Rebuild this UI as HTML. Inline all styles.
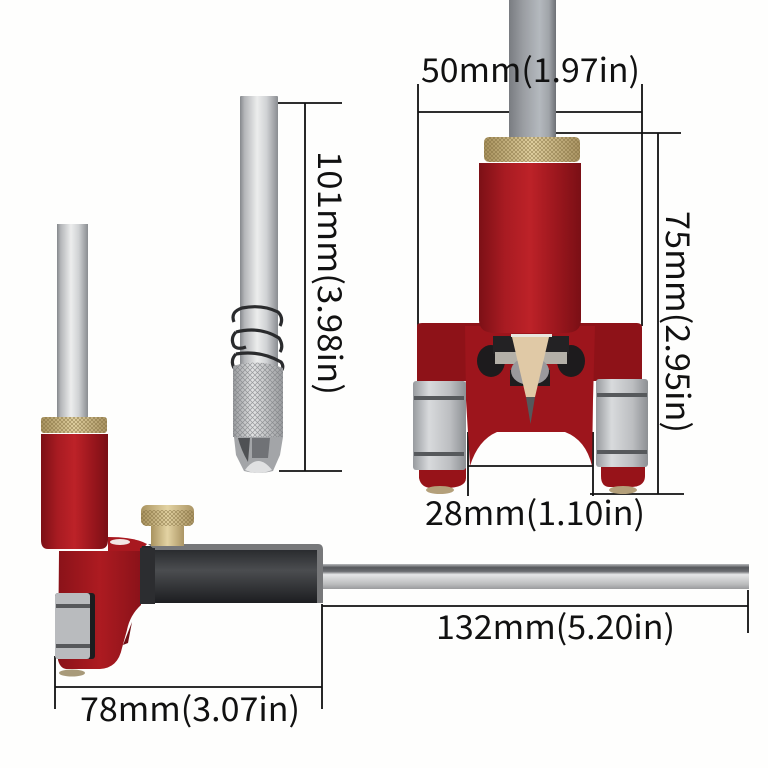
<!DOCTYPE html>
<html><head><meta charset="utf-8"><style>
html,body{margin:0;padding:0;background:#fff}svg{display:block}
text{font-family:"Noto Sans CJK SC","Liberation Sans",sans-serif;font-size:33px;fill:#111}
</style></head><body>
<svg width="768" height="768" viewBox="0 0 768 768" xmlns="http://www.w3.org/2000/svg">
<defs>
<linearGradient id="st" x1="0" x2="1" y1="0" y2="0"><stop offset="0" stop-color="#85888c"/><stop offset=".12" stop-color="#b4b6b9"/><stop offset=".45" stop-color="#eceded"/><stop offset=".7" stop-color="#d0d2d4"/><stop offset="1" stop-color="#8a8d91"/></linearGradient>
<linearGradient id="st2" x1="0" x2="1" y1="0" y2="0"><stop offset="0" stop-color="#797c81"/><stop offset=".3" stop-color="#9a9da2"/><stop offset=".65" stop-color="#b4b9be"/><stop offset=".85" stop-color="#a0a4a9"/><stop offset="1" stop-color="#6d7075"/></linearGradient>
<linearGradient id="sh" x1="0" x2="0" y1="0" y2="1"><stop offset="0" stop-color="#b9bbbd"/><stop offset=".14" stop-color="#55575b"/><stop offset=".3" stop-color="#6d6f73"/><stop offset=".42" stop-color="#e6e7e8"/><stop offset=".8" stop-color="#bcbdbe"/><stop offset="1" stop-color="#9a9b9d"/></linearGradient>
<linearGradient id="red" x1="0" x2="1" y1="0" y2="0"><stop offset="0" stop-color="#7c1016"/><stop offset=".25" stop-color="#a81b22"/><stop offset=".5" stop-color="#bd2228"/><stop offset=".75" stop-color="#9d171e"/><stop offset="1" stop-color="#7a0f15"/></linearGradient>
<linearGradient id="red2" x1="0" x2="1" y1="0" y2="0"><stop offset="0" stop-color="#8a1219"/><stop offset=".5" stop-color="#ad1b21"/><stop offset="1" stop-color="#8a1219"/></linearGradient>
<linearGradient id="brass" x1="0" x2="1" y1="0" y2="0"><stop offset="0" stop-color="#a9935f"/><stop offset=".5" stop-color="#e3d3a3"/><stop offset="1" stop-color="#ab9564"/></linearGradient>
<linearGradient id="blk" x1="0" x2="0" y1="0" y2="1"><stop offset="0" stop-color="#232528"/><stop offset=".42" stop-color="#4b4d50"/><stop offset="1" stop-color="#1b1c1f"/></linearGradient>
<linearGradient id="roll" x1="0" x2="1" y1="0" y2="0"><stop offset="0" stop-color="#989b9f"/><stop offset=".3" stop-color="#d8dadc"/><stop offset=".7" stop-color="#bcbec1"/><stop offset="1" stop-color="#8d9094"/></linearGradient>
<linearGradient id="kg" x1="0" x2="1" y1="0" y2="0"><stop offset="0" stop-color="#9a9c9f"/><stop offset=".4" stop-color="#e2e3e4"/><stop offset="1" stop-color="#9b9da0"/></linearGradient>
<pattern id="kn" width="4" height="4" patternUnits="userSpaceOnUse"><path d="M0 0L4 4M4 0L0 4" stroke="#7a6738" stroke-width=".6" opacity=".7"/></pattern>
<pattern id="kn2" width="5" height="5" patternUnits="userSpaceOnUse"><path d="M0 0L5 5M5 0L0 5" stroke="#77797d" stroke-width=".7" opacity=".7"/></pattern>
</defs>
<rect width="768" height="768" fill="#fefefd"/>

<!-- dimension lines behind rods -->
<g stroke="#111" stroke-width="1.800" fill="none">
<path d="M278 103H342M279 471H342M305 103V471"/>
<path d="M418 84V326M642 84V326M418 112H642"/>
<path d="M556 133H681M590 494H684M658 133V494"/>
<path d="M468 432V496M593 432V496M468 466H593"/>
<path d="M322 604V709M55 656V709M55 687H322"/>
<path d="M322 606H748M748 590V633"/>
</g>

<!-- top-right tool -->
<rect x="509" y="0" width="47" height="138" fill="url(#st2)"/>
<rect x="484" y="137" width="96" height="25" rx="5" fill="url(#brass)"/>
<rect x="484" y="137" width="96" height="25" rx="5" fill="url(#kn)"/>
<path d="M417 326Q417 323 422 323H637Q642 323 642 328V381H417Z" fill="#8e1218"/>
<path d="M465 326H595L593 400 592 466Q586 440 565 432H497Q478 440 470 466L466 400Z" fill="#9d151c"/>
<path d="M479 163H581V320Q581 333 565 333H495Q479 333 479 320Z" fill="url(#red)"/>
<!-- centre mechanics -->
<ellipse cx="491" cy="361" rx="14" ry="16" fill="#1d1b1d"/>
<ellipse cx="571" cy="361" rx="14" ry="16" fill="#1d1b1d"/>
<rect x="493" y="336" width="76" height="18" fill="#232224"/>
<rect x="495" y="352" width="72" height="12" fill="#b4b0a8"/>
<rect x="510" y="370" width="40" height="16" fill="#1e1d1f"/>
<ellipse cx="530" cy="371" rx="19" ry="14" fill="#9a999c"/>
<path d="M512 337H549L535 397H526Z" fill="#e0c9a6"/>
<path d="M526 397H535L530.500 424Z" fill="#55585b"/>
<rect x="511" y="334" width="41" height="3" fill="#e8e6df"/>
<!-- rollers -->
<path d="M419 468H466V478Q466 488 445 488H432Q421 488 419 478Z" fill="#971319"/>
<ellipse cx="440" cy="490" rx="14" ry="4" fill="#b4a07a"/>
<rect x="413" y="381" width="53" height="89" rx="3" fill="url(#roll)"/>
<rect x="414" y="396" width="50" height="4" fill="#56595c"/>
<rect x="414" y="452" width="50" height="4" fill="#56595c"/>
<path d="M601 466H645V476Q645 487 630 487H610Q601 487 601 476Z" fill="#971319"/>
<ellipse cx="623" cy="490" rx="14" ry="4" fill="#b4a07a"/>
<rect x="596" y="379" width="52" height="88" rx="3" fill="url(#roll)"/>
<rect x="597" y="393" width="50" height="4" fill="#56595c"/>
<rect x="597" y="450" width="50" height="4" fill="#56595c"/>

<!-- pencil / centre tool -->
<rect x="240" y="96" width="38" height="272" rx="1" fill="url(#st)"/>
<g fill="none" stroke="#2a2b2d" stroke-width="3.200">
<path d="M234 322Q230 312 242 308Q262 304 278 312Q284 318 280 326"/>
<path d="M236 332Q260 326 279 338Q284 346 280 352"/>
<path d="M236 332Q230 338 234 346Q238 350 246 347"/>
<path d="M236 354Q260 350 281 362Q284 366 282 370"/>
<path d="M236 354Q230 360 234 368"/>
</g>
<path d="M233 366Q258 358 283 368V437H233Z" fill="url(#kg)"/>
<path d="M233 366Q258 358 283 368V437H233Z" fill="url(#kn2)"/>
<path d="M234 437H283L280 455 273 471Q258 475 244 471L236 455Z" fill="#a3a5a8"/>
<path d="M238 438H250L248 462Q241 450 238 438Z" fill="#4f5154"/>
<path d="M252 438H270L268 458H252Z" fill="#707276"/>
<path d="M245 470Q258 452 272 470Q258 476 245 470Z" fill="#e0e1e2"/>

<!-- left tool -->
<rect x="57" y="224" width="31" height="196" fill="url(#st)"/>
<rect x="41" y="417" width="66" height="16" rx="3" fill="url(#brass)"/>
<rect x="41" y="417" width="66" height="16" rx="3" fill="url(#kn)"/>
<path d="M108 537Q135 537 147 544L140 552H108Z" fill="#a8181f"/>
<ellipse cx="120" cy="542" rx="10" ry="3" fill="#f2e6e4"/>
<path d="M59 551H141V605Q130 615 127 630L122 648Q118 668 100 669H66Q60 668 58 660Z" fill="url(#red2)"/>
<path d="M123 645L132 622 128 643Z" fill="#6f0d13"/>
<path d="M41 434H108V540Q108 549 100 549H48Q41 549 41 540Z" fill="url(#red)"/>
<ellipse cx="72" cy="673" rx="13" ry="3.500" fill="#a89a7a"/>
<rect x="55" y="593" width="40" height="66" rx="3" fill="#1d1d1f"/>
<rect x="55" y="593" width="35" height="66" rx="3" fill="#b9bbbe"/>
<rect x="56" y="604" width="34" height="4" fill="#56585b"/>
<rect x="56" y="644" width="34" height="4" fill="#56585b"/>
<!-- rod -->
<rect x="322" y="564" width="427" height="25" fill="url(#sh)"/>
<!-- black handle -->
<path d="M142 546H318Q323 546 323 552V603H150Q142 604 140 604V552Z" fill="url(#blk)"/>
<path d="M148 544H318Q323 544 323 550V603H317V550H155Z" fill="#77787a"/>
<rect x="140" y="548" width="15" height="56" fill="#2c2d30"/>
<!-- knob -->
<rect x="151" y="525" width="33" height="21" fill="url(#brass)"/>
<rect x="141" y="505" width="53" height="21" rx="6" fill="url(#brass)"/>
<rect x="141" y="510" width="53" height="16" rx="5" fill="url(#kn)"/>

<!-- labels -->
<text x="421" y="82" textLength="219" lengthAdjust="spacingAndGlyphs">50mm(1.97in)</text>
<text x="425" y="525" textLength="220" lengthAdjust="spacingAndGlyphs">28mm(1.10in)</text>
<text x="436" y="639" textLength="239" lengthAdjust="spacingAndGlyphs">132mm(5.20in)</text>
<text x="80" y="721" textLength="220" lengthAdjust="spacingAndGlyphs">78mm(3.07in)</text>
<text transform="translate(318,151) rotate(90)" textLength="244" lengthAdjust="spacingAndGlyphs">101mm(3.98in)</text>
<text transform="translate(666,211) rotate(90)" textLength="222" lengthAdjust="spacingAndGlyphs">75mm(2.95in)</text>
</svg>
</body></html>
